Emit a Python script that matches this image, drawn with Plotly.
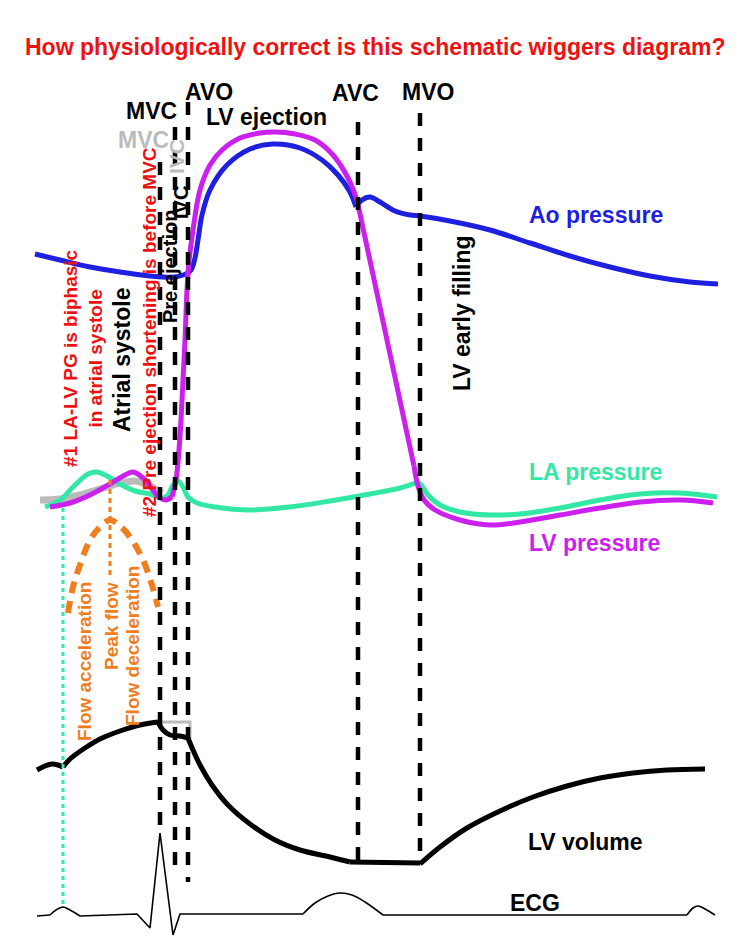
import plotly.graph_objects as go

# ---------------- data (schematic units: time on x, signal level on y) ----------------
# Aortic pressure
ao_t1 = [35, 60, 90, 120, 150, 175, 186]
ao_v1 = [254, 260, 267, 272, 276, 277, 274]
ao_t2 = [186, 191, 195, 198, 202, 210, 227, 250, 273, 300, 322, 338, 350, 356]
ao_v2 = [274, 270, 258, 240, 215, 190, 165, 149, 144, 148, 160, 175, 192, 207]
ao_t3 = [356, 362, 370, 380, 395, 410, 420, 450, 490, 530, 570, 610, 650, 690, 718]
ao_v3 = [207, 200, 197, 202, 211, 215, 216, 221, 230, 243, 256, 267, 276, 282, 284]

# LV pressure
lv_t1 = [50, 70, 90, 110, 125, 133, 143, 152, 160, 166, 172]
lv_v1 = [507, 503, 495, 484, 475, 472, 478, 489, 498, 500, 497]
lv_t2 = [172, 176, 179, 181, 183, 185, 187, 189, 193, 200, 210, 222, 240, 260, 275, 295, 315, 333, 348, 357]
lv_v2 = [497, 480, 450, 420, 380, 340, 290, 262, 230, 190, 165, 150, 138, 133, 132, 134, 140, 155, 178, 200]
lv_t3 = [357, 414]
lv_v3 = [200, 466]
lv_t4 = [414, 418, 424, 435, 460, 490, 520, 560, 600, 640, 680, 713]
lv_v4 = [466, 486, 500, 510, 520, 525, 522, 515, 508, 502, 500, 503]

# LA pressure
la_t1 = [45, 60, 75, 88, 97, 107, 120, 135, 150, 163, 168, 173, 178, 183, 188, 197, 215, 250, 290, 330, 370, 400, 418]
la_v1 = [507, 500, 485, 474, 472, 476, 484, 491, 494, 498, 495, 485, 481, 487, 497, 503, 507, 510, 507, 501, 494, 488, 482]
la_t2 = [418, 422, 428, 440, 460, 490, 520, 560, 600, 640, 680, 717]
la_v2 = [482, 486, 495, 505, 512, 515, 514, 508, 500, 494, 493, 497]

# alternative (gray) LA pressure
la_alt_t = [40, 60, 80, 100, 120, 135, 148, 162]
la_alt_v = [500, 499, 495, 489, 483, 481, 485, 493]

# LV volume
vol_t1 = [37, 45, 52, 58, 63]
vol_v1 = [770, 766, 764, 765, 767]
vol_t2 = [63, 70, 85, 100, 120, 140, 158]
vol_v2 = [767, 759, 748, 739, 731, 725, 722]
vol_t3 = [158, 163, 170, 180, 188]
vol_v3 = [722, 730, 735, 736, 738]
vol_t4 = [188, 193, 200, 212, 228, 250, 275, 300, 330, 350]
vol_v4 = [738, 750, 765, 785, 805, 824, 840, 850, 857, 862]
vol_t5 = [350, 420]
vol_v5 = [862, 863]
vol_t6 = [420, 440, 467, 500, 533, 567, 600, 633, 667, 705]
vol_v6 = [864, 847, 828, 811, 797, 786, 778, 773, 770, 769]
vol_alt_t = [158, 190, 190]
vol_alt_v = [722, 722, 738]

# ECG
ecg_t1 = [37, 50]
ecg_v1 = [916, 915]
ecg_p_t = [50, 56, 63, 70, 80]
ecg_p_v = [915, 910, 907, 910, 916]
ecg_t2 = [80, 137, 150, 160, 173, 180, 303]
ecg_v2 = [916, 914, 928, 833, 935, 914, 914]
ecg_tw_t = [303, 315, 328, 340, 352, 365, 383]
ecg_tw_v = [914, 903, 896, 893, 895, 902, 915]
ecg_t3 = [383, 687]
ecg_v3 = [915, 915]
ecg_u_t = [687, 693, 698, 705, 715]
ecg_u_v = [915, 908, 906, 909, 915]

# transmitral flow (schematic)
flow_t = [68, 73, 80, 90, 100, 110, 120, 130, 143, 152, 158]
flow_v = [613, 587, 565, 540, 527, 520, 526, 537, 560, 585, 607]

# valve event markers: (time, top, bottom)
event_t = [160, 175, 188, 358, 420]
event_top = [162, 127, 102, 122, 113]
event_bot = [833, 872, 882, 865, 862]

# ---------------- styles ----------------
BLUE = "#1f1fe0"
MAG = "#cc20ee"
GREEN = "#33e8a5"
ORANGE = "#f07d1e"
RED = "#ee1111"
GRAY = "#bbbbbb"
FONT = "Liberation Sans, Arial, sans-serif"

fig = go.Figure()


def line(x, y, color, width, shape="spline", dash=None):
    fig.add_trace(go.Scatter(
        x=x, y=y, mode="lines",
        line=dict(color=color, width=width, shape=shape, dash=dash),
        hoverinfo="skip", showlegend=False))


# gray alternatives first
line(la_alt_t, la_alt_v, GRAY, 7)
line(vol_alt_t, vol_alt_v, GRAY, 3, shape="linear")

# pressures
for x, y in [(ao_t1, ao_v1), (ao_t2, ao_v2), (ao_t3, ao_v3)]:
    line(x, y, BLUE, 5)
for x, y in [(la_t1, la_v1), (la_t2, la_v2)]:
    line(x, y, GREEN, 5)
line(lv_t1, lv_v1, MAG, 5)
line(lv_t2, lv_v2, MAG, 5)
line(lv_t3, lv_v3, MAG, 5, shape="linear")
line(lv_t4, lv_v4, MAG, 5)

# volume
for x, y in [(vol_t1, vol_v1), (vol_t2, vol_v2), (vol_t3, vol_v3), (vol_t4, vol_v4), (vol_t6, vol_v6)]:
    line(x, y, "black", 5)
line(vol_t5, vol_v5, "black", 5, shape="linear")

# ECG
line(ecg_t1, ecg_v1, "black", 1.6, shape="linear")
line(ecg_p_t, ecg_p_v, "black", 1.6)
line(ecg_t2, ecg_v2, "black", 1.6, shape="linear")
line(ecg_tw_t, ecg_tw_v, "black", 1.6)
line(ecg_t3, ecg_v3, "black", 1.6, shape="linear")
line(ecg_u_t, ecg_u_v, "black", 1.6)

# flow
line(flow_t, flow_v, ORANGE, 6, dash="12px,8px")
line([110, 110], [480, 578], ORANGE, 3, shape="linear", dash="5px,4px")

# green P-wave marker
line([63, 63], [508, 905], GREEN, 3, shape="linear", dash="4px,4px")

# valve event dashed lines
for t, a, b in zip(event_t, event_top, event_bot):
    line([t, t], [a, b], "black", 4.5, shape="linear", dash="13px,12px")

# ---------------- text ----------------
def label(x, y, text, color="black", size=23, angle=0):
    fig.add_annotation(x=x, y=y, text="<b>" + text + "</b>", showarrow=False,
                       xref="x", yref="y", xanchor="center", yanchor="middle",
                       textangle=angle, font=dict(family=FONT, size=size, color=color))


label(375, 47, "How physiologically correct is this schematic wiggers diagram?", RED, 23)
label(151, 111, "MVC")
label(209, 92, "AVO")
label(266, 117, "LV ejection")
label(355, 93, "AVC")
label(428, 92, "MVO")
label(143, 140, "MVC", GRAY)
label(176, 157, "IVC", GRAY, 21, -90)
label(181, 203, "IVC", "black", 20, -90)
label(170, 267, "Pre ejection", "black", 20, -90)
label(122, 360, "Atrial systole", "black", 23, -90)
label(83, 358, "#1 LA-LV PG is biphasic<br>in atrial systole", RED, 19, -90)
label(149, 332, "#2 Pre ejection shortening is before MVC", RED, 19, -90)
label(462, 313, "LV early filling", "black", 23, -90)
label(596, 215, "Ao pressure", BLUE)
label(595, 472, "LA pressure", GREEN)
label(594, 543, "LV pressure", MAG)
label(585, 842, "LV volume")
label(535, 903, "ECG")
label(84, 662, "Flow acceleration", ORANGE, 19, -90)
label(111, 626, "Peak flow", ORANGE, 19, -90)
label(132, 646, "Flow deceleration", ORANGE, 19, -90)

# the page adds an 8 px body margin; offset the visible window to compensate
OFFSET = 8
fig.update_layout(
    width=750, height=941,
    margin=dict(l=0, r=0, t=0, b=0),
    paper_bgcolor="white", plot_bgcolor="white",
    xaxis=dict(range=[OFFSET, 750 + OFFSET], visible=False, fixedrange=True),
    yaxis=dict(range=[941 + OFFSET, OFFSET], visible=False, fixedrange=True),
    showlegend=False,
)

fig.write_html("out.html")
